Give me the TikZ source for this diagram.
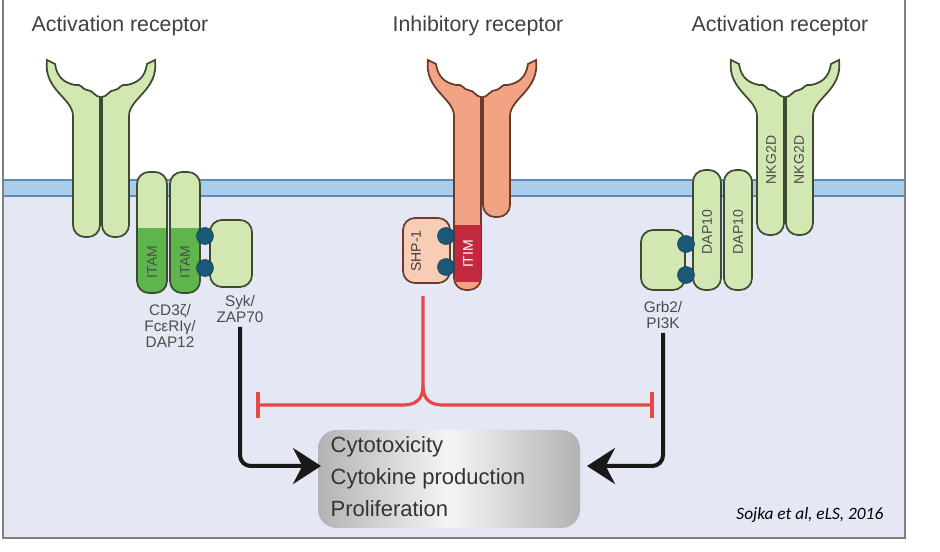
\documentclass[tikz,border=0pt]{standalone}
\usepackage{fontspec}
\setmainfont{Liberation Sans}
\newfontfamily\citefont{Carlito}
\usetikzlibrary{arrows.meta}
\definecolor{lg}{HTML}{D3E7B2}
\definecolor{lgo}{HTML}{3C4A30}
\definecolor{dg}{HTML}{5DB54C}
\definecolor{sal}{HTML}{F2A384}
\definecolor{salo}{HTML}{6A3A2A}
\definecolor{itim}{HTML}{C4283E}
\definecolor{shp}{HTML}{F7CDB6}
\definecolor{dot}{HTML}{1B5878}
\definecolor{memb}{HTML}{A9CDEA}
\definecolor{membo}{HTML}{5E8CB8}
\definecolor{cyto}{HTML}{E5E8F4}
\definecolor{inh}{HTML}{E64848}
\newcommand\halfY[3]{%
  \draw[line width=1.3pt,draw=#3,fill=#2] (-1,97) -- (-1,#1-14) [rounded corners=9pt]-- (-1,#1) -- (-28,#1) [sharp corners]-- (-28,#1-14)
   -- (-28,116) .. controls (-28,98) and (-58,90) .. (-54,60) -- (-46,64)
   .. controls (-44,78) and (-36,83) .. (-26,85)
   .. controls (-20,83) and (-18,90) .. (-14,90)
   .. controls (-8,90) and (-6,97) .. (-1,97) -- cycle;}
\tikzset{
  chain/.style={draw=lgo,fill=lg,line width=1.3pt,rounded corners=9pt},
  dotc/.style={circle,fill=dot,draw=dot!70!black,minimum size=17*0.75pt,inner sep=0pt},
  lab/.style={font=\fontsize{11.5}{12}\selectfont,text=black!70,align=center,inner sep=0pt},
  title/.style={font=\fontsize{16}{18}\selectfont,text=black!75,inner sep=0pt},
  rtxt/.style={rotate=90,font=\fontsize{10.5}{11}\selectfont,inner sep=0pt},
  act/.style={line width=3pt,black!90,rounded corners=8pt,-{Stealth[length=21pt,width=27pt,inset=7pt]}},
  inhl/.style={line width=2.4pt,inh}
}
\begin{document}
\begin{tikzpicture}[x=0.75pt,y=-0.75pt]
\useasboundingbox (0,0) rectangle (940,552);
% background
\fill[cyto] (3,196) rectangle (905,538);
\fill[memb] (3,180) rectangle (905,196);
\draw[membo,line width=1pt] (3,180) -- (905,180) (3,196) -- (905,196);
\draw[gray,line width=1pt] (3,0) -- (3,538) -- (905,538) -- (905,0);
% titles
\node[title] (t1) at (120,26) {Activation receptor};
\node[title] (t2) at (478,26) {Inhibitory receptor};
\node[title] (t3) at (780,26) {Activation receptor};
% left receptor
\begin{scope}[shift={(101,0)}]
 \halfY{237}{lg}{lgo}
 \begin{scope}[xscale=-1]\halfY{237}{lg}{lgo}\end{scope}
\end{scope}
\foreach \x/\n in {137/a,170/b}{
  \begin{scope}
   \clip[rounded corners=9pt] (\x,172) rectangle (\x+30,293);
   \fill[lg] (\x,172) rectangle (\x+30,293);
   \fill[dg] (\x,228) rectangle (\x+30,293);
  \end{scope}
  \draw[chain,fill=none] (\x,172) rectangle (\x+30,293);
  \node[rtxt,text=black!70] (itam\n) at (\x+15,262) {ITAM};
}
\draw[chain] (210,220) rectangle (252,287);
\node[dotc] (d1) at (205,236) {};
\node[dotc] (d2) at (205,268) {};
\node[lab] (cd3) at (170,326) {CD3ζ/\\FcεRIγ/\\DAP12};
\node[lab] (syk) at (240,309) {Syk/\\ZAP70};
% inhibitory receptor
\begin{scope}[shift={(482,0)}]
 \halfY{290}{sal}{salo}
 \begin{scope}[xscale=-1]\halfY{217}{sal}{salo}\end{scope}
\end{scope}
\begin{scope}
 \clip[rounded corners=9pt] (455,120) rectangle (481,290);
 \fill[itim] (455,225) rectangle (481,282);
\end{scope}
\node[rtxt,text=white] (itimt) at (468,254) {ITIM};
\draw[draw=salo,fill=shp,line width=1.3pt,rounded corners=9pt] (403,218) rectangle (450,283);
\node[dotc] (d3) at (446,236) {};
\node[dotc] (d4) at (446,267) {};
\node[rtxt,text=black!75] (shpt) at (416,251) {SHP-1};
% right receptor
\begin{scope}[shift={(785,0)}]
 \halfY{235}{lg}{lgo}
 \begin{scope}[xscale=-1]\halfY{235}{lg}{lgo}\end{scope}
\end{scope}
\node[rtxt,text=black!70] (nk1) at (771,160) {NKG2D};
\node[rtxt,text=black!70] (nk2) at (799,160) {NKG2D};
\draw[chain] (693,170) rectangle (721,290);
\draw[chain] (724,170) rectangle (752,290);
\node[rtxt,text=black!70] (dp1) at (707,232) {DAP10};
\node[rtxt,text=black!70] (dp2) at (738,232) {DAP10};
\draw[chain] (641,230) rectangle (685,290);
\node[dotc] (d5) at (686,244) {};
\node[dotc] (d6) at (686,275) {};
\node[lab] (grb) at (663,315) {Grb2/\\PI3K};
% output box
\node[draw=none,rounded corners=14pt,left color=black!30,right color=black!30,middle color=black!4,
      minimum width=262*0.75pt,minimum height=98*0.75pt,inner sep=0pt] (out) at (449,479) {};
\node[font=\fontsize{16.5}{24}\selectfont,text=black!80,align=left,anchor=west] (outt) at (326,477)
  {Cytotoxicity\\Cytokine production\\Proliferation};
% activation arrows
\coordinate (lb) at (321,466);
\coordinate (rb) at (587,466);
\draw[act] ([yshift=-3pt]syk.south) |- (lb);
\draw[act] ([yshift=-3pt]grb.south) |- (rb);
% inhibition
\coordinate (ib) at (423,296);
\coordinate (ic) at (423,386);
\coordinate (il) at (258,405);
\coordinate (ir) at (652,405);
\draw[inhl] (ib) -- (ic) .. controls (423,400) and (415,405) .. (403,405) -- (il);
\draw[inhl] (ic) .. controls (423,400) and (431,405) .. (443,405) -- (ir);
\draw[inhl] (258,392) -- (258,418) (652,392) -- (652,418);
% citation
\node[font=\citefont\itshape\fontsize{13}{14}\selectfont,anchor=east] (cite) at (888,515) {Sojka et al, eLS, 2016};
\end{tikzpicture}
\end{document}
